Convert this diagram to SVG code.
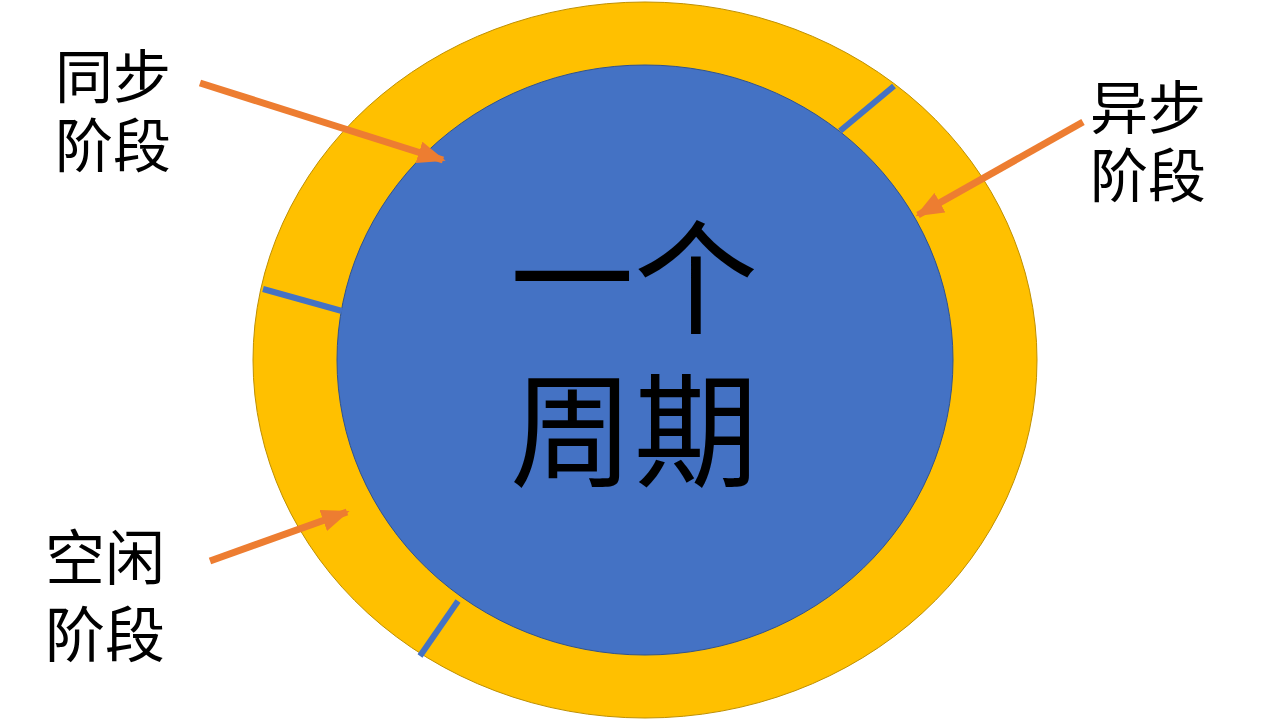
<svg xmlns="http://www.w3.org/2000/svg" width="1280" height="720" viewBox="0 0 1280 720">
<defs>
<style>
.lbl{font-family:"Noto Sans CJK SC","Noto Sans CJK JP",sans-serif;font-size:58px;fill:#000}
.lbl2{font-family:"Noto Sans CJK SC","Noto Sans CJK JP",sans-serif;font-size:60px;fill:#000}
.big{font-family:"Noto Sans CJK SC","Noto Sans CJK JP",serif;font-size:124px;fill:#000}
.arr{stroke:#ED7D31;stroke-width:7;fill:none;marker-end:url(#ah)}
.div{stroke:#4472C4;stroke-width:6}
</style>
<marker id="ah" viewBox="0 0 10 8" refX="9" refY="4" markerWidth="4" markerHeight="3.2" orient="auto" markerUnits="strokeWidth">
<path d="M0,0 L10,4 L0,8 Z" fill="#ED7D31"/>
</marker>
</defs>
<rect width="1280" height="720" fill="#fff"/>
<g id="outer">
<ellipse cx="645" cy="360" rx="392" ry="358" fill="#FFC000" stroke="#BF9000" stroke-width="1"/>
</g>
<g id="inner">
<ellipse cx="645" cy="360" rx="308" ry="295" fill="#4472C4" stroke="#2F528F" stroke-width="1"/>
<text class="big" x="634" y="324" text-anchor="middle">一个</text>
<text class="big" x="634" y="477" text-anchor="middle">周期</text>
</g>
<g id="dividers">
<line class="div" x1="840" y1="131" x2="894" y2="86"/>
<line class="div" x1="263" y1="289" x2="342" y2="311"/>
<line class="div" x1="420" y1="656" x2="458" y2="601"/>
</g>
<g id="label-sync">
<text class="lbl" x="113" y="98" text-anchor="middle">同步</text>
<text class="lbl" x="113" y="167" text-anchor="middle">阶段</text>
</g>
<g id="label-async">
<text class="lbl" x="1148" y="129" text-anchor="middle">异步</text>
<text class="lbl" x="1148" y="197" text-anchor="middle">阶段</text>
</g>
<g id="label-idle">
<text class="lbl2" x="105" y="580" text-anchor="middle">空闲</text>
<text class="lbl2" x="105" y="657" text-anchor="middle">阶段</text>
</g>
<g id="connectors">
<line class="arr" x1="200" y1="83" x2="443" y2="160"/>
<line class="arr" x1="1083" y1="122" x2="918" y2="215"/>
<line class="arr" x1="210" y1="561" x2="347" y2="512"/>
</g>
</svg>
